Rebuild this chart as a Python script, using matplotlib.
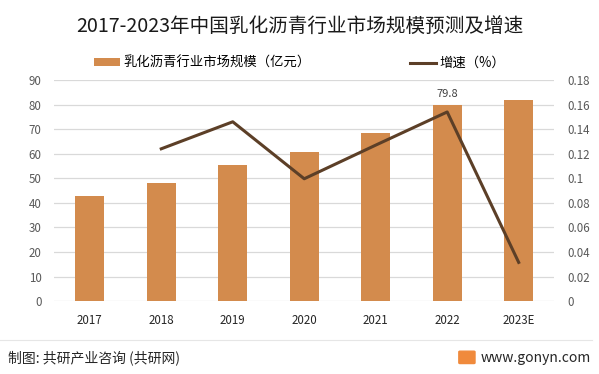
import matplotlib.pyplot as plt
from matplotlib.patches import FancyBboxPatch

plt.rcParams['font.family'] = ['Noto Sans CJK SC', 'DejaVu Sans']

years = ['2017', '2018', '2019', '2020', '2021', '2022', '2023E']
market = [42.8, 48.0, 55.4, 60.7, 68.4, 79.8, 81.8]   # 亿元
growth = [None, 0.124, 0.146, 0.0996, 0.127, 0.154, 0.0315]

bar_color = '#D38B4D'
line_color = '#5C3F27'
tick_color = '#595959'

fig = plt.figure(figsize=(5.99, 3.74), dpi=100)
ax = fig.add_axes([0.0902, 0.195, 0.8354, 0.591])
ax2 = ax.twinx()

x = list(range(len(years)))
ax.bar(x, market, width=0.40, color=bar_color, zorder=2, label='乳化沥青行业市场规模（亿元）')
ax.text(x[5], market[5] + 2.5, '79.8', ha='center', va='bottom', fontsize=8, color='#404040')

gx = [i for i, g in zip(x, growth) if g is not None]
gy = [g for g in growth if g is not None]
ax2.plot(gx, gy, color=line_color, lw=2.2, zorder=3, label='增速（%）')

ax.set_xlim(-0.5, 6.5)
ax.set_ylim(0, 90)
ax.set_yticks(range(0, 91, 10))
ax2.set_ylim(0, 0.18)
ax2.set_yticks([0, 0.02, 0.04, 0.06, 0.08, 0.1, 0.12, 0.14, 0.16, 0.18])
ax2.set_yticklabels(['0', '0.02', '0.04', '0.06', '0.08', '0.1', '0.12', '0.14', '0.16', '0.18'])

ax.set_xticks(x)
ax.set_xticklabels(years)
ax.grid(axis='y', color='#D9D9D9', lw=0.9, zorder=0)
ax.set_axisbelow(True)
for a in (ax, ax2):
    for s in a.spines.values():
        s.set_visible(False)
ax.tick_params(axis='y', length=0, pad=9, labelsize=8.3, labelcolor=tick_color)
ax2.tick_params(axis='y', length=0, pad=9, labelsize=8.3, labelcolor=tick_color)
ax.tick_params(axis='x', length=0, pad=9, labelsize=8.3, labelcolor='#262626')

# legend
h1, l1 = ax.get_legend_handles_labels()
h2, l2 = ax2.get_legend_handles_labels()
fig.legend(h1 + h2, l1 + l2, loc='center', bbox_to_anchor=(0.5, 0.832), ncol=2,
           frameon=False, fontsize=9.6, handlelength=2.0, handleheight=0.5,
           columnspacing=7.4, handletextpad=0.25)

fig.text(0.5, 0.926, '2017-2023年中国乳化沥青行业市场规模预测及增速', ha='center', va='center',
         fontsize=14.1, color='#1a1a1a')

# footer
fig.add_artist(plt.Line2D([0.0, 0.988], [0.091, 0.091], color='#E6E6E6', lw=0.8))
fig.text(0.013, 0.043, '制图: 共研产业咨询 (共研网)', ha='left', va='center', fontsize=10, color='#262626')
fig.add_artist(FancyBboxPatch((0.768, 0.03), 0.023, 0.029, boxstyle='round,pad=0.002',
                              transform=fig.transFigure, color='#F08A3C'))
fig.text(0.987, 0.043, 'www.gonyn.com', ha='right', va='center', fontsize=10, color='#262626')

fig.savefig('out.png', dpi=100)
